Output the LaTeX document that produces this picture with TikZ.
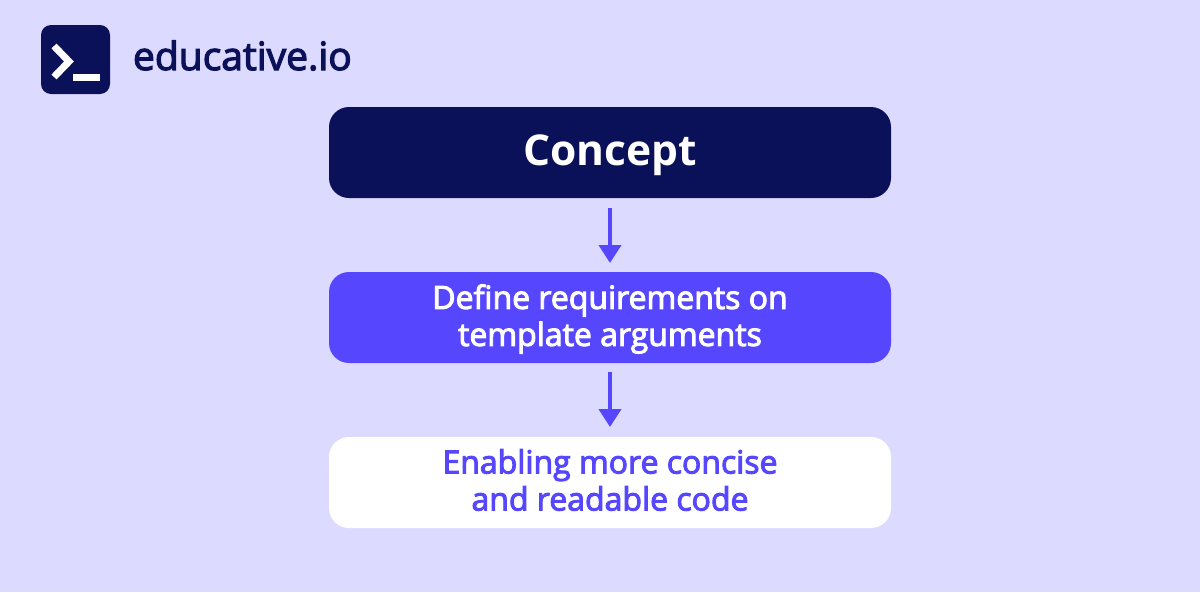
\documentclass[tikz,border=0pt]{standalone}
\usepackage{fontspec}
\setmainfont{Open Sans}
\newfontfamily\medfont[FakeBold=3]{Open Sans}
\usepackage{tikz}
\usetikzlibrary{positioning}
\usetikzlibrary{arrows.meta}
\definecolor{bgcol}{HTML}{DDDAFF}
\definecolor{darkcol}{HTML}{0A1158}
\definecolor{midcol}{HTML}{5647FF}

\begin{document}
\begin{tikzpicture}[x=1pt,y=-1pt,line width=1pt]
	\tikzstyle{every node}=[inner sep=0pt,outer sep=0pt]
	\tikzstyle{flowbox} =[rectangle,rounded corners=20pt,minimum width=562pt,minimum height=91pt]
	\tikzstyle{flowtext} =[align=center,font=\fontsize{32}{37}\medfont]
	\tikzstyle{flowarrow} =[midcol,line width=4pt,-{Triangle[length=18pt,width=22pt]}]
	\fill[bgcol] (0,0) rectangle (1200,592);
	\useasboundingbox (0,0) rectangle (1200,592);

	\node (logobox)[rectangle,rounded corners=10pt,fill=darkcol,minimum width=69pt,minimum height=69pt] at (75.5,59.5) {};
	\draw[white,line width=7pt] (54,46) -- (69,61.5) -- (54,77);
	\draw[white,line width=7pt] (73,77) -- (100,77);
	\node (logotext)[text=darkcol,font=\fontsize{39}{44}\medfont,anchor=west] at (133,55.5) {educative.io};

	\node (concept)[flowbox,fill=darkcol] at (610,152.5) {};
	\node (define)[flowbox,fill=midcol] at (610,317.5) {};
	\node (enable)[flowbox,fill=white] at (610,482.5) {};

	\node (concepttext)[text=white,font=\fontsize{42.5}{50}\selectfont\bfseries] at (610,155) {Concept};
	\node (definetext)[flowtext,text=white] at (610,319) {Define requirements on\\template arguments};
	\node (enabletext)[flowtext,text=midcol] at (610,480) {Enabling more concise\\and readable code};

	\coordinate (a1) at (610,208);
	\coordinate (a2) at (610,263);
	\coordinate (b1) at (610,372);
	\coordinate (b2) at (610,427);
	\draw[flowarrow] (a1) -- (a2);
	\draw[flowarrow] (b1) -- (b2);
\end{tikzpicture}
\end{document}
